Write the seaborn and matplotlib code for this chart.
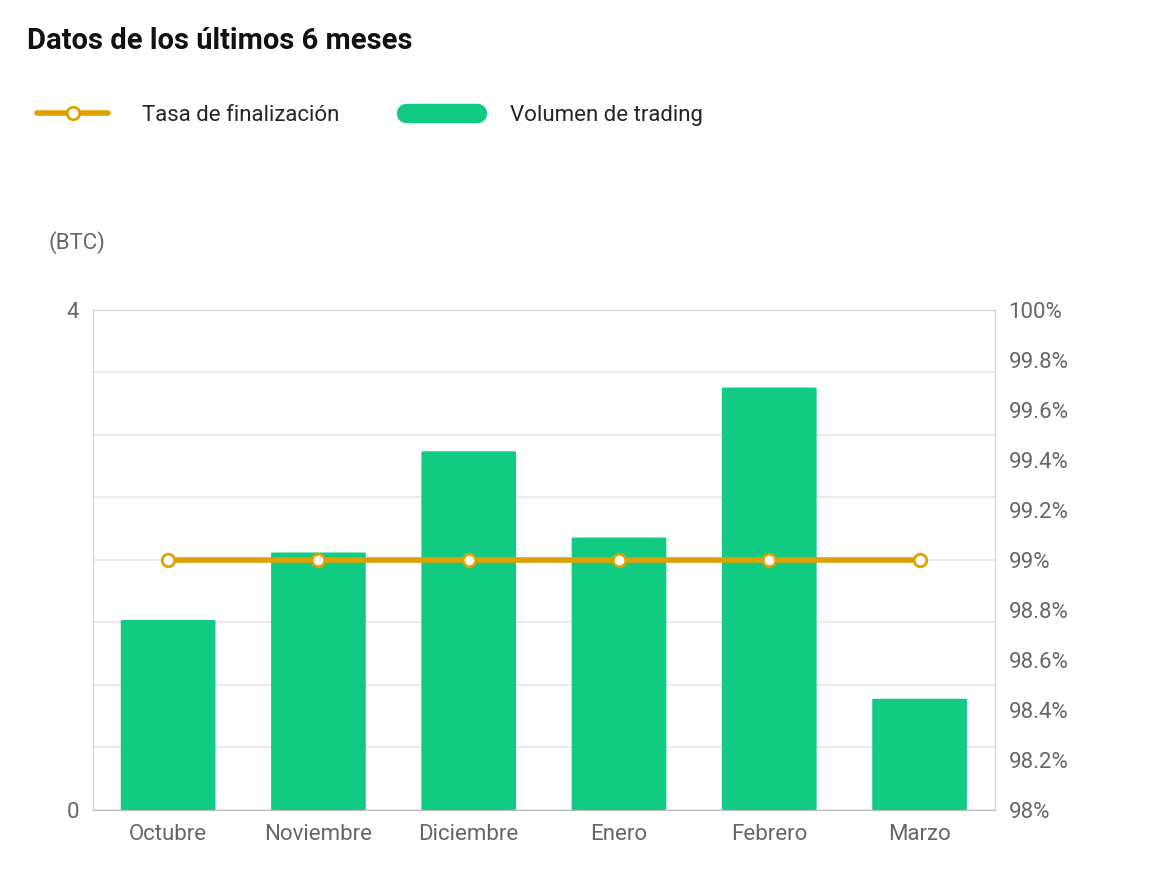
import matplotlib.pyplot as plt
import seaborn as sns
import pandas as pd
from matplotlib.patches import FancyBboxPatch
from matplotlib.lines import Line2D

months = ['Octubre', 'Noviembre', 'Diciembre', 'Enero', 'Febrero', 'Marzo']
volume = [1.52, 2.06, 2.87, 2.18, 3.38, 0.89]
rate = [99, 99, 99, 99, 99, 99]

df = pd.DataFrame({'Mes': months, 'Volumen': volume, 'Tasa': rate})

sns.set_style('white')
plt.rcParams['font.family'] = ['Roboto', 'DejaVu Sans']

fig = plt.figure(figsize=(11.58, 8.9), dpi=100)
ax = fig.add_axes([0.0803, 0.0899, 0.7787, 0.5618])

green = '#10cb81'
gold = '#e0a100'

sns.barplot(data=df, x='Mes', y='Volumen', color=green, width=0.63, ax=ax, zorder=3)
# round the bar tops a little
for p in list(ax.patches):
    x, y = p.get_x(), p.get_y()
    w, h = p.get_width(), p.get_height()
    p.remove()
    ax.add_patch(FancyBboxPatch((x, y), w, h, boxstyle='round,pad=0,rounding_size=0.06',
                                mutation_aspect=0.04, facecolor=green, edgecolor='none', zorder=3))

ax.set_ylim(0, 4)
ax.set_xlim(-0.5, 5.5)
ax.set_yticks([0, 4])
ax.set_yticks([i * 0.5 for i in range(9)], minor=True)
ax.grid(True, which='both', axis='y', color='#e6e6e6', lw=1.2, zorder=0)
ax.set_xlabel('')
ax.set_ylabel('')
for s in ax.spines.values():
    s.set_color('#d0d0d0')
ax.spines['bottom'].set_color('#bbbbbb')
ax.tick_params(axis='both', which='both', length=0, labelsize=16, colors='#666666', pad=10)
ax.tick_params(axis='y', which='minor', labelleft=False)

ax2 = ax.twinx()
ax2.plot(range(len(months)), rate, color=gold, lw=4, marker='o', markersize=9,
         markerfacecolor='white', markeredgecolor=gold, markeredgewidth=2, zorder=5)
ax2.set_ylim(98, 100)
ax2.set_yticks([98 + 0.2 * i for i in range(11)])
ax2.set_yticklabels(['98%', '98.2%', '98.4%', '98.6%', '98.8%', '99%', '99.2%', '99.4%',
                     '99.6%', '99.8%', '100%'])
ax2.tick_params(axis='y', length=0, labelsize=16, colors='#666666', pad=10)
for s in ax2.spines.values():
    s.set_visible(False)

fig.text(0.042, 0.72, '(BTC)', fontsize=16, color='#666666')
fig.text(0.023, 0.945, 'Datos de los últimos 6 meses', fontsize=21, fontweight='bold', color='#111111')

handles = [Line2D([0], [0], color=gold, lw=4, marker='o', markersize=9, markerfacecolor='white',
                  markeredgecolor=gold, markeredgewidth=2),
           Line2D([0], [0], color=green, lw=14, solid_capstyle='round')]
fig.legend(handles, ['Tasa de finalización', 'Volumen de trading'], loc='center left',
           bbox_to_anchor=(0.015, 0.87), ncol=2, frameon=False, fontsize=16,
           handlelength=3.2, columnspacing=3, handletextpad=1.5)

fig.savefig('out.png', dpi=100)
